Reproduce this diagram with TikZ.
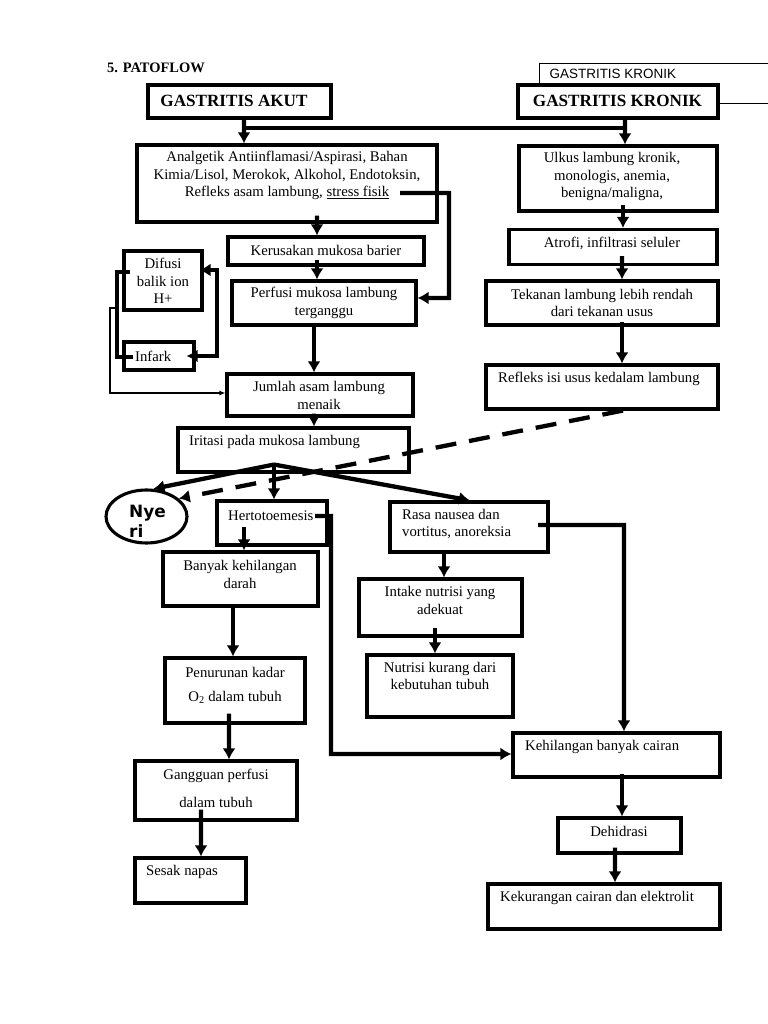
\documentclass[tikz,border=0pt]{standalone}
\usepackage{fontspec}
\setmainfont{Liberation Serif}
\newfontfamily\nyerifont{DejaVu Sans}
\newfontfamily\thinfont{Liberation Sans}
\usetikzlibrary{arrows.meta,shapes.geometric}
\tikzset{
  box/.style={draw,line width=3.1bp,rectangle,inner sep=0pt,fill=white},
  txt/.style={inner sep=0pt,font=\fontsize{14.8}{17.5}\selectfont,align=center},
  head/.style={inner sep=0pt,font=\fontsize{17.2}{20}\selectfont\bfseries},
  flow/.style={line width=4.3bp,-{Latex[length=11bp,width=13bp]}},
  twoway/.style={line width=4.3bp,{Latex[length=11bp,width=13bp]}-{Latex[length=11bp,width=13bp]}},
  link/.style={line width=4.3bp},
  feed/.style={line width=1.3bp,-{Latex[length=6bp,width=5bp]}},
}
\begin{document}
\begin{tikzpicture}[>=latex,line join=miter,]
\useasboundingbox (0bp,0bp) rectangle (768bp,1024bp);
\fill [white] (0bp,0bp) rectangle (768bp,1024bp);
%%
\node (title) at (107bp,956bp) [anchor=west,inner sep=0pt,font=\fontsize{14.5}{17}\selectfont\bfseries] {5. PATOFLOW};
\node (node_x) at (657bp,941bp) [draw,line width=0.9bp,rectangle,inner sep=0pt,minimum width=236bp,minimum height=40bp] {};
\node (text_x) at (549.5bp,950bp) [anchor=west,inner sep=0pt,font=\fontsize{13.5}{16}\thinfont] {GASTRITIS KRONIK};
%
\node (node_0) at (239.5bp,922.5bp) [box,minimum width=183bp,minimum height=33bp] {};
  \node (text_0) at (234bp,923bp) [head] {GASTRITIS AKUT};
\node (node_1) at (618bp,922.5bp) [box,minimum width=200bp,minimum height=33bp] {};
  \node (text_1) at (617.5bp,923bp) [head] {GASTRITIS KRONIK};
\node (node_2) at (287bp,840.5bp) [box,minimum width=300bp,minimum height=77bp] {};
  \node (text_2) at (287bp,848.5bp) [txt] {Analgetik Antiinflamasi/Aspirasi, Bahan\\Kimia/Lisol, Merokok, Alkohol, Endotoksin,\\Refleks asam lambung, \underline{stress fisik}};
\node (node_3) at (618bp,845.5bp) [box,minimum width=198bp,minimum height=65bp] {};
  \node (text_3) at (612bp,847.5bp) [txt] {Ulkus lambung kronik,\\monologis, anemia,\\benigna/maligna,};
\node (node_4) at (326bp,773bp) [box,minimum width=196bp,minimum height=28bp] {};
  \node (text_4) at (326bp,774bp) [txt] {Kerusakan mukosa barier};
\node (node_5) at (613bp,777bp) [box,minimum width=208bp,minimum height=35bp] {};
  \node (text_5) at (612bp,781bp) [txt] {Atrofi, infiltrasi seluler};
\node (node_6) at (163bp,743.5bp) [box,minimum width=78bp,minimum height=59bp] {};
  \node (text_6) at (163bp,743bp) [txt] {Difusi\\balik ion\\H+};
\node (node_7) at (324bp,721bp) [box,minimum width=184bp,minimum height=44bp] {};
  \node (text_7) at (324bp,721bp) [txt] {Perfusi mukosa lambung\\terganggu};
\node (node_8) at (602bp,721bp) [box,minimum width=232bp,minimum height=44bp] {};
  \node (text_8) at (602bp,721bp) [txt] {Tekanan lambung lebih rendah\\dari tekanan usus};
\node (node_9) at (159bp,668bp) [box,minimum width=70bp,minimum height=28bp] {};
  \node (text_9) at (135bp,668bp) [txt,anchor=west] {Infark};
\node (node_10) at (320bp,629bp) [box,minimum width=186bp,minimum height=42bp] {};
  \node (text_10) at (319bp,628.5bp) [txt] {Jumlah asam lambung\\menaik};
\node (node_11) at (602bp,637bp) [box,minimum width=232bp,minimum height=44bp] {};
  \node (text_11) at (498bp,645bp) [txt,anchor=west] {Refleks isi usus kedalam lambung};
\node (node_12) at (293.5bp,574bp) [box,minimum width=231bp,minimum height=44bp] {};
  \node (text_12) at (189bp,582bp) [txt,anchor=west] {Iritasi pada mukosa lambung};
\node (node_13) at (146.5bp,507.5bp) [ellipse,draw,line width=3.1bp,inner sep=0pt,minimum width=81bp,minimum height=53bp] {};
  \node (text_13) at (129bp,503bp) [anchor=west,inner sep=0pt,align=left,font=\fontsize{17}{20}\nyerifont\bfseries] {Nye\\ri};
\node (node_14) at (272bp,501bp) [box,minimum width=110bp,minimum height=44bp] {};
  \node (text_14) at (228bp,508bp) [txt,anchor=west] {Hertotoemesis};
\node (node_15) at (469bp,497bp) [box,minimum width=158bp,minimum height=50bp] {};
  \node (text_15) at (402bp,500bp) [txt,anchor=west,align=left] {Rasa nausea dan\\vortitus, anoreksia};
\node (node_16) at (240.5bp,445bp) [box,minimum width=155bp,minimum height=54bp] {};
  \node (text_16) at (240bp,449.5bp) [txt] {Banyak kehilangan\\darah};
\node (node_17) at (440.5bp,416.5bp) [box,minimum width=163bp,minimum height=57bp] {};
  \node (text_17) at (440bp,423.5bp) [txt] {Intake nutrisi yang\\adekuat};
\node (node_18) at (440bp,338bp) [box,minimum width=146bp,minimum height=62bp] {};
  \node (text_18) at (440bp,348bp) [txt] {Nutrisi kurang dari\\kebutuhan tubuh};
\node (node_19) at (235bp,333.5bp) [box,minimum width=140bp,minimum height=65bp] {};
  \node (text_19) at (235bp,339bp) [txt] {Penurunan kadar\\[6.5bp]O\textsubscript{2} dalam tubuh};
\node (node_20) at (616.5bp,269bp) [box,minimum width=207bp,minimum height=44bp] {};
  \node (text_20) at (525bp,277bp) [txt,anchor=west] {Kehilangan banyak cairan};
\node (node_21) at (216bp,233.5bp) [box,minimum width=162bp,minimum height=59bp] {};
  \node (text_21) at (216bp,236bp) [txt] {Gangguan perfusi\\[10.5bp]dalam tubuh};
\node (node_22) at (619.5bp,188.5bp) [box,minimum width=123bp,minimum height=35bp] {};
  \node (text_22) at (619bp,193bp) [txt] {Dehidrasi};
\node (node_23) at (190.5bp,143.5bp) [box,minimum width=111bp,minimum height=45bp] {};
  \node (text_23) at (146bp,152bp) [txt,anchor=west] {Sesak napas};
\node (node_24) at (604bp,117.5bp) [box,minimum width=232bp,minimum height=45bp] {};
  \node (text_24) at (500bp,126bp) [txt,anchor=west] {Kekurangan cairan dan elektrolit};
%
\coordinate (j_0) at (244bp,896bp);
\coordinate (j_1) at (625bp,896bp);
\coordinate (j_2) at (449bp,831bp);
\coordinate (j_3) at ([xshift=-19.5bp,yshift=9bp]node_12.south);
\coordinate (j_4) at (331bp,508bp);
\coordinate (j_5) at (624bp,499bp);
\coordinate (j_6) at (217bp,754bp);
\coordinate (j_7) at (217bp,668bp);
\coordinate (j_8) at (117bp,752bp);
\coordinate (j_9) at (117bp,667bp);
\coordinate (j_10) at (117bp,716bp);
\coordinate (j_11) at (110bp,716bp);
%
\draw [flow] ([xshift=4.5bp]node_0.south) -- (j_0 |- node_2.north);
\draw [link] (j_0) -- (j_1);
\draw [flow] ([xshift=7bp]node_1.south) -- (j_1 |- node_3.north);
\draw [flow] ([xshift=30bp,yshift=8bp]node_2.south) -- ([xshift=-9bp]node_4.north);
\draw [flow] ([xshift=-9bp,yshift=7bp]node_4.south) -- ([xshift=-7bp]node_7.north);
\draw [flow] ([xshift=-10bp,yshift=3bp]node_7.south) -- ([xshift=-6bp]node_10.north);
\draw [flow] ([xshift=-6bp,yshift=4bp]node_10.south) -- ([xshift=20.5bp]node_12.north);
\draw [flow] ([xshift=113bp,yshift=-9.5bp]node_2.center) -- (j_2) |- ([yshift=5bp]node_7.east);
\draw [flow] ([xshift=5bp,yshift=8bp]node_3.south) -- ([xshift=10bp]node_5.north);
\draw [flow] ([xshift=9bp,yshift=10bp]node_5.south) -- ([xshift=20bp]node_8.north);
\draw [flow] ([xshift=20bp,yshift=5bp]node_8.south) -- ([xshift=20bp]node_11.north);
\draw [flow,dash pattern=on 21bp off 13bp] ([xshift=21bp]node_11.south) -- (node_13.29);
%
\draw [twoway] ([xshift=-4bp]node_6.east |- j_6) -- (j_6) -- (j_7) -- ([xshift=-9bp]node_9.east |- j_7);
\draw [link] ([xshift=8bp]node_6.west |- j_8) -- (j_8) -- (j_9) -- ([xshift=11bp]node_9.west |- j_9);
\draw [feed] (j_10) -- (j_11) |- ([yshift=2bp]node_10.west);
%
\draw [flow] (j_3) -- (node_13.76);
\draw [flow] (j_3) -- (j_3 |- node_14.north);
\draw [flow] (j_3) -- ([xshift=1bp]node_15.north);
\draw [flow] ([xshift=43bp,yshift=7bp]node_14.center) -- (j_4) |- ([yshift=1bp]node_20.west);
\draw [flow] ([xshift=69bp,yshift=2bp]node_15.center) -- (j_5) -- (j_5 |- node_20.north);
\draw [flow] ([xshift=-25bp,yshift=3bp]node_15.south) -- ([xshift=3.5bp]node_17.north);
\draw [flow] ([xshift=-5.5bp,yshift=10bp]node_17.south) -- ([xshift=-5bp]node_18.north);
\draw [flow] ([xshift=-28bp,yshift=20bp]node_14.south) -- ([xshift=3.5bp]node_16.north);
\draw [flow] ([xshift=-7.5bp,yshift=1bp]node_16.south) -- ([xshift=-2bp]node_19.north);
\draw [flow] ([xshift=-6bp,yshift=11bp]node_19.south) -- ([xshift=13bp]node_21.north);
\draw [flow] ([xshift=-15bp,yshift=12bp]node_21.south) -- ([xshift=10.5bp]node_23.north);
\draw [flow] ([xshift=5.5bp,yshift=5bp]node_20.south) -- ([xshift=2.5bp]node_22.north);
\draw [flow] ([xshift=-4.5bp,yshift=7bp]node_22.south) -- ([xshift=11bp]node_24.north);
%
\end{tikzpicture}
\end{document}
